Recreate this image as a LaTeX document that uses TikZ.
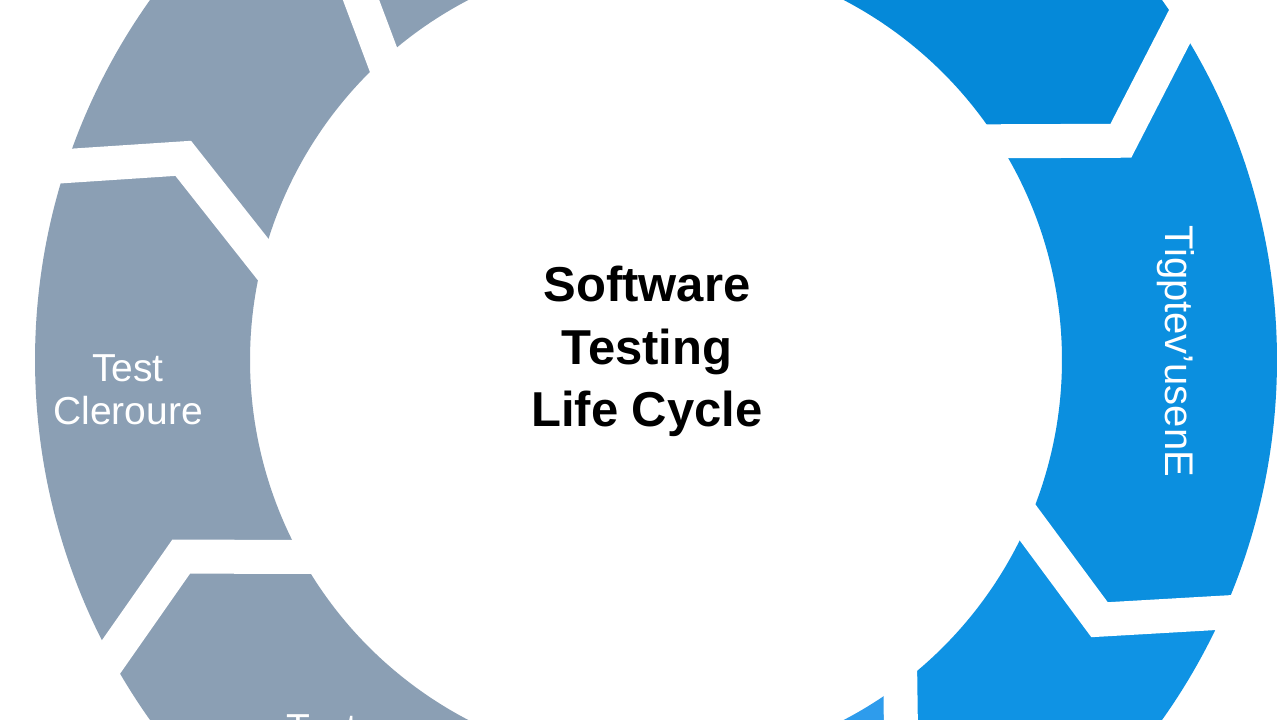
\documentclass[tikz,border=0pt]{standalone}
\usepackage{fontspec}
\setmainfont{Liberation Sans}
\usetikzlibrary{calc}
\definecolor{grayseg}{HTML}{8B9FB4}
\definecolor{topblue}{HTML}{0589D9}
\definecolor{rightblue}{HTML}{0B8FDF}
\definecolor{lowblue}{HTML}{0F93E4}
\definecolor{lightblue}{HTML}{2E9CEC}
\tikzset{
  gapline/.style={draw=white, line width=34pt, line join=miter, line cap=butt},
  centertext/.style={font=\fontsize{49}{62}\selectfont\bfseries, text=black, inner sep=0pt, anchor=base},
  segtext/.style={font=\fontsize{39}{43}\selectfont, text=white, inner sep=0pt, anchor=base}
}
\begin{document}
\begin{tikzpicture}[x=1pt,y=1pt]
\useasboundingbox (0,0) rectangle (1280,720);
\clip (0,0) rectangle (1280,720);
\fill[white] (0,0) rectangle (1280,720);
\begin{scope}[shift={(656,360)}]
\foreach \n/\o/\m/\i in {bBR/-55/-61.4/-53, bR/-24/-30.35/-23.65, bTR/32.5/25.25/32.6, bTop/88/82/88, bT/133/127.5/132.2, bL/161.8/156.9/165.6, bBL/208.6/202.5/209, bBot/268/262/268}{
  \coordinate (o\n) at (\o:621pt);
  \coordinate (m\n) at (\m:514pt);
  \coordinate (i\n) at (\i:406pt);
}
% segments
\fill[lowblue] (obBR) arc[start angle=-55, end angle=-24, radius=621pt] -- (mbR) -- (ibR) arc[start angle=-23.65, end angle=-53, radius=406pt] -- (mbBR) -- cycle;
\fill[rightblue] (obR) arc[start angle=-24, end angle=32.5, radius=621pt] -- (mbTR) -- (ibTR) arc[start angle=32.6, end angle=-23.65, radius=406pt] -- (mbR) -- cycle;
\fill[topblue] (obTR) arc[start angle=32.5, end angle=88, radius=621pt] -- (mbTop) -- (ibTop) arc[start angle=88, end angle=32.6, radius=406pt] -- (mbTR) -- cycle;
\fill[grayseg] (obTop) arc[start angle=88, end angle=133, radius=621pt] -- (mbT) -- (ibT) arc[start angle=132.2, end angle=88, radius=406pt] -- (mbTop) -- cycle;
\fill[grayseg] (obT) arc[start angle=133, end angle=161.8, radius=621pt] -- (mbL) -- (ibL) arc[start angle=165.6, end angle=132.2, radius=406pt] -- (mbT) -- cycle;
\fill[grayseg] (obL) arc[start angle=161.8, end angle=208.6, radius=621pt] -- (mbBL) -- (ibBL) arc[start angle=209, end angle=165.6, radius=406pt] -- (mbL) -- cycle;
\fill[grayseg] (obBL) arc[start angle=208.6, end angle=268, radius=621pt] -- (mbBot) -- (ibBot) arc[start angle=268, end angle=209, radius=406pt] -- (mbBL) -- cycle;
\fill[lightblue] (obBot) arc[start angle=268, end angle=305, radius=621pt] -- (mbBR) -- (ibBR) arc[start angle=307, end angle=268, radius=406pt] -- (mbBot) -- cycle;
% gaps
\foreach \n in {bBR, bR, bTR, bTop, bT, bL, bBL, bBot}{
  \draw[gapline] ($(m\n)!1.3!(o\n)$) -- (m\n) -- ($(m\n)!1.5!(i\n)$);
}
\end{scope}
% centre title
\node[centertext] (t1) at (647,418) {Software};
\node[centertext] (t2) at (647,355) {Testing};
\node[centertext] (t3) at (647,293) {Life Cycle};
% segment labels
\node[segtext] (c1) at (128,338) {Test};
\node[segtext] (c2) at (128,295) {Cleroure};
\node[segtext] (b1) at (322,-22) {Test};
\node[font=\fontsize{40}{44}\selectfont, text=white, inner sep=0pt, rotate=-90, anchor=base west] (r1) at (1165,495) {Tigptev'usenE};
\end{tikzpicture}
\end{document}
